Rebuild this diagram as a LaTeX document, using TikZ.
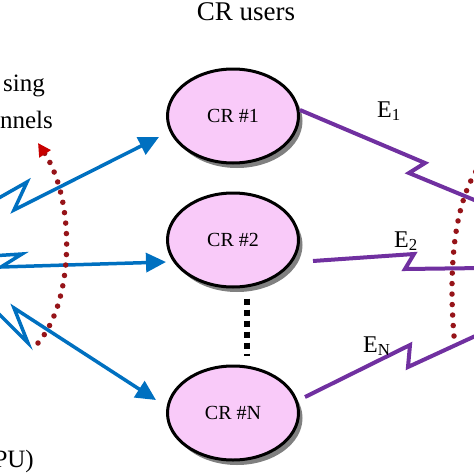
\documentclass[tikz,border=0pt]{standalone}
\usepackage{fontspec}
\setmainfont{Liberation Serif}
\usetikzlibrary{shapes}
\usetikzlibrary{shadows}
\usetikzlibrary{arrows.meta}
\usetikzlibrary{calc}

\definecolor{crpink}{RGB}{249,202,249}
\definecolor{pucolor}{RGB}{0,112,192}
\definecolor{ecolor}{RGB}{112,48,160}
\definecolor{sensedot}{RGB}{150,20,25}
\definecolor{sensetip}{RGB}{200,0,0}

\tikzset{
	cruser/.style={ellipse, draw=black, line width=3pt, fill=crpink, minimum width=131pt, minimum height=94pt, inner sep=0pt, font=\fontsize{20}{24}\selectfont, drop shadow={shadow xshift=4pt, shadow yshift=-5pt, fill=gray, opacity=1}},
	pulink/.style={draw=pucolor, line width=3.5pt, line join=miter, -{Triangle[length=20pt,width=19pt]}},
	elink/.style={draw=ecolor, line width=4pt, line join=miter},
	sensearc/.style={draw=sensedot, line width=5.5pt, line cap=round, dash pattern=on 0pt off 10.5pt},
	bigtext/.style={font=\fontsize{25}{30}\selectfont, inner sep=0pt}
}

\begin{document}
\begin{tikzpicture}[x=1pt,y=-1pt]
	\useasboundingbox (0,0) rectangle (474,474);

	\node[bigtext, anchor=base, font=\fontsize{27}{30}\selectfont] (title) at (246,20) {CR users};
	\node[bigtext, anchor=base east] (sense1) at (45,91) {sing};
	\node[bigtext, anchor=base east] (sense2) at (53,128) {nnels};
	\node[bigtext, anchor=base east] (pu) at (34,467) {PU)};

	\node[cruser] (cr1) at (233,116) {CR \#1};
	\node[cruser] (cr2) at (233,240) {CR \#2};
	\node[cruser] (crn) at (233,413) {CR \#N};

	\draw[line width=6pt, dash pattern=on 6pt off 5pt] ($(cr2.south)+(14,10)$) -- ($(crn.north)+(14,-9)$);

	\coordinate (pu1) at (-10,203);
	\coordinate (pu2) at (-10,256);
	\coordinate (pu3) at (-10,305);
	\draw[pulink] (pu1) -- (27,182) -- (14,210) -- ($(cr1.west)+(-7,21)$);
	\draw[pulink] (pu2) -- (22,254) -- (1,267) -- ($(cr2.west)+(0,22)$);
	\draw[pulink] (pu3) -- (28,343) -- (14,308) -- ($(crn.west)+(-10,-13)$);

	\coordinate (e1end) at (484,204);
	\coordinate (e2end) at (484,268);
	\coordinate (enend) at (484,332);
	\draw[elink] ($(cr1.east)+(0,-6)$) -- (425,163) -- (409,173) -- (e1end);
	\draw[elink] ($(cr2.east)+(13,21)$) -- (414,254) -- (405,269) -- (e2end);
	\draw[elink] ($(crn.east)+(5,-16)$) -- (410,345) -- (408,367) -- (enend);

	\node[bigtext, anchor=base west, font=\fontsize{24}{28}\selectfont] (e1) at (377,117) {E\textsubscript{1}};
	\node[bigtext, anchor=base west, font=\fontsize{24}{28}\selectfont] (e2) at (394,247) {E\textsubscript{2}};
	\node[bigtext, anchor=base west, font=\fontsize{24}{28}\selectfont] (en) at (363,352) {E\textsubscript{N}};

	\coordinate (lsense0) at (38,343);
	\coordinate (lsense1) at (38,143);
	\coordinate (rsense0) at (454,336);
	\coordinate (rsense1) at (478,168);
	\draw[sensearc, -{Triangle[length=13pt,width=13pt,fill=sensetip,color=sensetip]}] (lsense0) .. controls (75,300) and (75,200) .. (lsense1);
	\draw[sensearc] (rsense0) .. controls (451,300) and (447,215) .. (rsense1);
\end{tikzpicture}
\end{document}
